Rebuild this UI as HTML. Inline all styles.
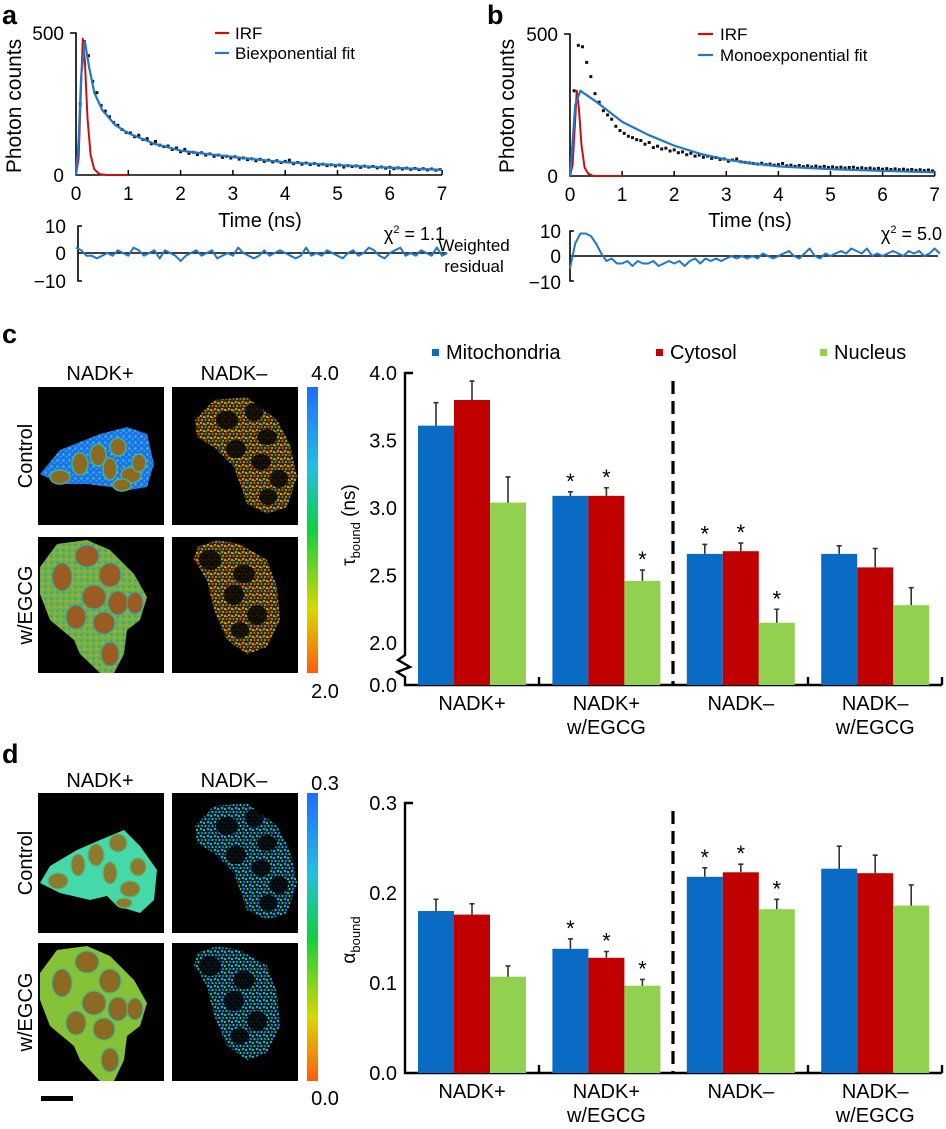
<!DOCTYPE html>
<html><head><meta charset="utf-8">
<style>
html,body{margin:0;padding:0;background:#fff;}
svg{display:block;font-family:"Liberation Sans",Arial,sans-serif;}
</style></head>
<body>
<svg id="fig" width="946" height="1129" viewBox="0 0 946 1129" xmlns="http://www.w3.org/2000/svg">
<defs>
 <linearGradient id="cbar" x1="0" y1="0" x2="0" y2="1">
  <stop offset="0" stop-color="#1f6cff"/><stop offset="0.28" stop-color="#22c0e0"/>
  <stop offset="0.5" stop-color="#10d040"/><stop offset="0.78" stop-color="#d8d800"/>
  <stop offset="1" stop-color="#ff5a10"/>
 </linearGradient>
 <pattern id="spkC" width="7" height="7" patternUnits="userSpaceOnUse">
  <rect width="7" height="7" fill="#3a2806"/>
  <circle cx="1" cy="1" r="1.2" fill="#ff7a00"/><circle cx="4" cy="2" r="1" fill="#e8d000"/>
  <circle cx="2" cy="5" r="1.1" fill="#20b0d0"/><circle cx="5.5" cy="5" r="1" fill="#ff4a00"/>
  <circle cx="6" cy="2.5" r="0.8" fill="#40d040"/>
 </pattern>
 <pattern id="spkD" width="7" height="7" patternUnits="userSpaceOnUse">
  <rect width="7" height="7" fill="#06202a"/>
  <circle cx="1" cy="1" r="1.2" fill="#20a8d8"/><circle cx="4" cy="2" r="1" fill="#30e0c0"/>
  <circle cx="2" cy="5" r="1.1" fill="#1f6cff"/><circle cx="5.5" cy="5" r="1" fill="#60d040"/>
 </pattern>
 <pattern id="spkBlue" width="6" height="6" patternUnits="userSpaceOnUse">
  <rect width="6" height="6" fill="#1d72e6"/>
  <circle cx="1.5" cy="1.5" r="1.2" fill="#2ec8d0"/><circle cx="4.5" cy="4" r="1" fill="#3a9cff"/>
 </pattern>
 <pattern id="spkEgC" width="6" height="6" patternUnits="userSpaceOnUse">
  <rect width="6" height="6" fill="#6fb640"/>
  <circle cx="1.5" cy="1.5" r="1.1" fill="#2a8fe0"/><circle cx="4.5" cy="4" r="1" fill="#d0a020"/>
 </pattern>
</defs>

<!-- panel letters -->
<text x="2" y="24" font-size="27" font-weight="bold">a</text>
<text x="487" y="24" font-size="27" font-weight="bold">b</text>
<text x="2" y="343" font-size="27" font-weight="bold">c</text>
<text x="2" y="763" font-size="27" font-weight="bold">d</text>

<!-- Panel a static -->
<g>
 <text transform="translate(21,106) rotate(-90)" text-anchor="middle" font-size="21">Photon counts</text>
 <text x="64" y="40" text-anchor="end" font-size="19">500</text>
 <text x="64" y="182" text-anchor="end" font-size="19">0</text>
 <path d="M70,33 H76 V175 H442" fill="none" stroke="#000" stroke-width="1.6"/>
 <text x="260" y="227" text-anchor="middle" font-size="20">Time (ns)</text>
 <line x1="215" y1="33" x2="229" y2="33" stroke="#c81010" stroke-width="2.2"/>
 <text x="235" y="39" font-size="17">IRF</text>
 <line x1="215" y1="53" x2="229" y2="53" stroke="#1f78c8" stroke-width="2.2"/>
 <text x="235" y="59" font-size="17">Biexponential fit</text>
 <path d="M82,226 H78 V281 H82" fill="none" stroke="#000" stroke-width="1.6"/>
 <line x1="78" y1="253" x2="446" y2="253" stroke="#000" stroke-width="1.4"/>
 <text x="66" y="233" text-anchor="end" font-size="19">10</text>
 <text x="66" y="260" text-anchor="end" font-size="19">0</text>
 <text x="66" y="288" text-anchor="end" font-size="19">−10</text>
 <text x="445" y="240" text-anchor="end" font-size="18">χ<tspan dy="-7" font-size="11">2</tspan><tspan dy="7"> = 1.1</tspan></text>
</g>
<text x="474" y="251" text-anchor="middle" font-size="17">Weighted</text>
<text x="474" y="272" text-anchor="middle" font-size="17">residual</text>

<!-- Panel b static -->
<g>
 <text transform="translate(514,106) rotate(-90)" text-anchor="middle" font-size="21">Photon counts</text>
 <text x="558" y="41" text-anchor="end" font-size="19">500</text>
 <text x="558" y="183" text-anchor="end" font-size="19">0</text>
 <path d="M564,34 H570 V176 H935" fill="none" stroke="#000" stroke-width="1.6"/>
 <text x="750" y="227" text-anchor="middle" font-size="20">Time (ns)</text>
 <line x1="698" y1="34" x2="713" y2="34" stroke="#c81010" stroke-width="2.2"/>
 <text x="720" y="40" font-size="17">IRF</text>
 <line x1="698" y1="55" x2="713" y2="55" stroke="#1f78c8" stroke-width="2.2"/>
 <text x="720" y="61" font-size="17">Monoexponential fit</text>
 <path d="M574,231 H570 V281 H574" fill="none" stroke="#000" stroke-width="1.6"/>
 <line x1="570" y1="256" x2="938" y2="256" stroke="#000" stroke-width="1.4"/>
 <text x="561" y="238" text-anchor="end" font-size="19">10</text>
 <text x="561" y="263" text-anchor="end" font-size="19">0</text>
 <text x="561" y="289" text-anchor="end" font-size="19">−10</text>
 <text x="942" y="240" text-anchor="end" font-size="18">χ<tspan dy="-7" font-size="11">2</tspan><tspan dy="7"> = 5.0</tspan></text>
</g>

<!-- Panel c images -->
<g>
 <text x="100" y="380" text-anchor="middle" font-size="20">NADK+</text>
 <text x="234" y="380" text-anchor="middle" font-size="20">NADK–</text>
 <text transform="translate(32,456) rotate(-90)" text-anchor="middle" font-size="20">Control</text>
 <text transform="translate(32,605) rotate(-90)" text-anchor="middle" font-size="20">w/EGCG</text>
 <g transform="translate(38,387)">
  <rect width="126" height="138" fill="#000"/>
  <polygon points="2,87 22,63 62,47 89,40 109,47 116,77 109,100 92,103 72,100 49,97 22,97" fill="url(#spkBlue)"/>
  <g fill="#8c6a22" stroke="#3fb0a0" stroke-width="1.5">
   <ellipse cx="22" cy="90" rx="10" ry="7"/><ellipse cx="42" cy="77" rx="8" ry="11"/><ellipse cx="60" cy="68" rx="8" ry="11"/>
   <ellipse cx="80" cy="60" rx="8" ry="9"/><ellipse cx="72" cy="82" rx="7" ry="11"/><ellipse cx="93" cy="88" rx="10" ry="8"/>
   <ellipse cx="84" cy="98" rx="9" ry="6"/><ellipse cx="101" cy="76" rx="7" ry="9"/>
  </g>
 </g>
 <g transform="translate(172,387)">
  <rect width="126" height="138" fill="#000"/>
  <polygon points="23,33 42,13 75,10 105,33 118,57 125,90 115,120 95,127 75,117 62,80 42,60 25,50" fill="url(#spkC)"/>
  <g fill="#070500" opacity="0.85">
   <ellipse cx="55" cy="33" rx="11" ry="9"/><ellipse cx="82" cy="25" rx="9" ry="9"/><ellipse cx="95" cy="50" rx="10" ry="8"/>
   <ellipse cx="64" cy="62" rx="10" ry="9"/><ellipse cx="89" cy="75" rx="10" ry="8"/><ellipse cx="107" cy="92" rx="9" ry="9"/><ellipse cx="96" cy="110" rx="9" ry="8"/>
  </g>
 </g>
 <g transform="translate(38,537)">
  <rect width="126" height="136" fill="#000"/>
  <polygon points="2,30 19,7 49,3 72,13 96,37 109,60 102,83 89,93 86,117 76,136 62,136 42,117 36,103 12,83 2,57" fill="url(#spkEgC)"/>
  <g fill="#9a5c22" stroke="#3aa8a0" stroke-width="1.2">
   <ellipse cx="49" cy="19" rx="12" ry="11"/><ellipse cx="72" cy="38" rx="11" ry="12"/><ellipse cx="56" cy="60" rx="12" ry="12"/>
   <ellipse cx="80" cy="66" rx="10" ry="12"/><ellipse cx="97" cy="66" rx="8" ry="11"/><ellipse cx="66" cy="86" rx="11" ry="11"/>
   <ellipse cx="72" cy="117" rx="9" ry="12"/><ellipse cx="38" cy="80" rx="10" ry="12"/><ellipse cx="24" cy="40" rx="10" ry="14"/>
  </g>
 </g>
 <g transform="translate(172,537)">
  <rect width="126" height="136" fill="#000"/>
  <polygon points="25,10 45,3 68,7 95,23 105,50 108,83 95,110 75,117 55,103 42,73 35,43 22,23" fill="url(#spkC)"/>
  <g fill="#070500" opacity="0.85">
   <ellipse cx="38" cy="23" rx="11" ry="10"/><ellipse cx="72" cy="37" rx="11" ry="9"/><ellipse cx="62" cy="58" rx="10" ry="10"/>
   <ellipse cx="85" cy="78" rx="10" ry="10"/><ellipse cx="68" cy="93" rx="9" ry="8"/>
  </g>
 </g>
 <rect x="307" y="387" width="11" height="286" fill="url(#cbar)"/>
 <text x="325" y="380" text-anchor="middle" font-size="20">4.0</text>
 <text x="325" y="698" text-anchor="middle" font-size="20">2.0</text>
</g>

<!-- Panel d images -->
<g>
 <text x="100" y="787" text-anchor="middle" font-size="20">NADK+</text>
 <text x="234" y="787" text-anchor="middle" font-size="20">NADK–</text>
 <text transform="translate(32,863) rotate(-90)" text-anchor="middle" font-size="20">Control</text>
 <text transform="translate(32,1012) rotate(-90)" text-anchor="middle" font-size="20">w/EGCG</text>
 <g transform="translate(38,793)">
  <rect width="126" height="140" fill="#000"/>
  <polygon points="2,90 12,73 39,57 62,47 86,37 102,53 119,77 116,107 102,120 79,113 69,103 52,107 22,100" fill="#45d8a8"/>
  <g fill="#8c7a2e" stroke="#50c080" stroke-width="1.2">
   <ellipse cx="20" cy="88" rx="10" ry="8"/><ellipse cx="40" cy="72" rx="7" ry="11"/><ellipse cx="58" cy="62" rx="8" ry="11"/>
   <ellipse cx="80" cy="50" rx="9" ry="9"/><ellipse cx="72" cy="80" rx="7" ry="11"/><ellipse cx="100" cy="74" rx="8" ry="9"/>
   <ellipse cx="92" cy="96" rx="10" ry="8"/><ellipse cx="86" cy="110" rx="8" ry="5"/>
  </g>
 </g>
 <g transform="translate(172,793)">
  <rect width="126" height="140" fill="#000"/>
  <polygon points="23,33 42,13 75,10 105,33 118,57 125,90 115,120 95,127 75,117 62,80 42,60 25,50" fill="url(#spkD)"/>
  <g fill="#000305" opacity="0.85">
   <ellipse cx="55" cy="33" rx="11" ry="9"/><ellipse cx="82" cy="25" rx="9" ry="9"/><ellipse cx="95" cy="50" rx="10" ry="8"/>
   <ellipse cx="64" cy="62" rx="10" ry="9"/><ellipse cx="89" cy="75" rx="10" ry="8"/><ellipse cx="107" cy="92" rx="9" ry="9"/><ellipse cx="96" cy="110" rx="9" ry="8"/>
  </g>
 </g>
 <g transform="translate(38,943)">
  <rect width="126" height="138" fill="#000"/>
  <polygon points="2,30 19,7 49,3 72,13 96,37 109,60 102,83 89,93 86,117 76,138 62,138 42,117 36,103 12,83 2,57" fill="#86c238"/>
  <g fill="#8c6a22" stroke="#40b890" stroke-width="1.2">
   <ellipse cx="49" cy="19" rx="12" ry="11"/><ellipse cx="72" cy="38" rx="11" ry="12"/><ellipse cx="56" cy="60" rx="12" ry="12"/>
   <ellipse cx="80" cy="66" rx="10" ry="12"/><ellipse cx="97" cy="66" rx="8" ry="11"/><ellipse cx="66" cy="86" rx="11" ry="11"/>
   <ellipse cx="72" cy="117" rx="9" ry="12"/><ellipse cx="38" cy="80" rx="10" ry="12"/><ellipse cx="24" cy="40" rx="10" ry="14"/>
  </g>
 </g>
 <g transform="translate(172,943)">
  <rect width="126" height="138" fill="#000"/>
  <polygon points="25,10 45,3 68,7 95,23 105,50 108,83 95,110 75,117 55,103 42,73 35,43 22,23" fill="url(#spkD)"/>
  <g fill="#000305" opacity="0.85">
   <ellipse cx="38" cy="23" rx="11" ry="10"/><ellipse cx="72" cy="37" rx="11" ry="9"/><ellipse cx="62" cy="58" rx="10" ry="10"/>
   <ellipse cx="85" cy="78" rx="10" ry="10"/><ellipse cx="68" cy="93" rx="9" ry="8"/>
  </g>
 </g>
 <rect x="307" y="793" width="11" height="288" fill="url(#cbar)"/>
 <text x="325" y="790" text-anchor="middle" font-size="20">0.3</text>
 <text x="325" y="1105" text-anchor="middle" font-size="20">0.0</text>
 <rect x="41" y="1096" width="32" height="5" fill="#000"/>
</g>

<!-- Panel c chart static -->
<g>
 <rect x="432" y="349" width="7" height="7" fill="#0a6bc4"/>
 <text x="446" y="359" font-size="20">Mitochondria</text>
 <rect x="656" y="349" width="7" height="7" fill="#c00000"/>
 <text x="670" y="359" font-size="20">Cytosol</text>
 <rect x="820" y="349" width="7" height="7" fill="#92d050"/>
 <text x="834" y="359" font-size="20">Nucleus</text>
 <text transform="translate(355,525) rotate(-90)" text-anchor="middle" font-size="19">τ<tspan dy="5" font-size="13">bound</tspan><tspan dy="-5"> (ns)</tspan></text>
</g>
<g>
 <text transform="translate(355,940) rotate(-90)" text-anchor="middle" font-size="19">α<tspan dy="5" font-size="13">bound</tspan></text>
</g>
<g id="dyn"></g>
</svg>

<script>
// ---------- Panel a data ----------
const fitTimesA = [0,0.05,0.1,0.17,0.25,0.35,0.5,0.75,1,1.5,2,2.5,3,3.5,4,5,6,7];
const fitValsA  = [0,120,350,470,380,290,229,176,147,110,86,74,64,54,45,35,26,18];
const irfTimes  = [0,0.05,0.1,0.13,0.17,0.22,0.28,0.35,0.45,0.6,1.0];
const irfValsA  = [0,60,330,480,400,200,70,20,3,0,0];
const dotValsA = [250,470,420,330,290,245,225,205,185,175,160,150,148,135,140,125,128,110,118,105,100,102,90,95,82,90,76,80,72,78,70,74,66,70,62,66,60,64,56,60,54,57,50,55,48,52,46,50,44,48,52,40,44,38,42,37,40,35,38,33,36,32,35,28,33,30,32,27,31,28,30,25,28,24,27,22,25,21,24,20,23,19,22,18,21,17,19];
const resValsA = [2,1,-1,-1,-2,-1,0,-1,1,0,-1,2,1,-1,0,1,-2,1,0,-1,-3,-1,0,1,-1,0,1,-2,-1,0,-1,2,0,-1,-2,-1,1,-1,0,1,0,-1,-2,-1,2,-1,0,-1,1,0,-1,-2,0,1,-1,0,2,1,-1,-2,0,1,2,-1,0,-1,1,0,-1,2,-1,0];
// ---------- Panel b data ----------
const fitTimesB = [0,0.05,0.1,0.2,0.5,1,1.5,2,2.5,3,3.5,4,5,6,7];
const fitValsB  = [0,120,250,300,262,191,145,107,78,58,44,34,24,18,13];
const irfValsB  = [0,40,200,300,240,110,30,8,0,0,0];
const dotValsB = [300,460,455,400,350,290,260,230,215,200,175,160,150,140,135,128,125,112,118,100,105,95,98,88,92,82,85,75,80,70,74,66,70,62,65,58,60,52,56,60,50,48,46,44,42,45,40,42,38,40,44,36,38,34,37,33,36,32,35,31,34,30,32,29,31,28,30,31,27,29,26,28,25,27,24,26,23,25,22,24,21,23,20,22,19,21,18];
const resValsB = [-5,5,9,9,8,5,1,-2,-1,-3,-3,-2,-4,-2,-3,-3,-2,-4,-3,-2,-3,-2,-4,-2,-1,-3,-1,-2,-1,-2,-1,0,-1,0,-1,0,-1,1,0,-1,0,1,2,0,-1,1,3,0,-1,1,0,1,2,1,3,2,1,3,0,1,0,1,2,1,0,2,1,2,0,1,3,1];
const dotStep = 0.08, resStep = 0.1;
const xTickLabels = ["0","1","2","3","4","5","6","7"];

// ---------- Panel c data ----------
const groups = ["NADK+","NADK+\nw/EGCG","NADK–","NADK–\nw/EGCG"];
const seriesNames = ["mitochondria","cytosol","nucleus"];
const tauMito = [3.61,3.09,2.66,2.66];
const tauCyto = [3.80,3.09,2.68,2.56];
const tauNuc  = [3.04,2.46,2.15,2.28];
const tauMitoErr = [3.78,3.12,2.73,2.72];
const tauCytoErr = [3.94,3.15,2.74,2.70];
const tauNucErr  = [3.23,2.54,2.25,2.41];
const tauSig = [[0,0,0],[1,1,1],[1,1,1],[0,0,0]];
const tauTicks = ["0.0","2.0","2.5","3.0","3.5","4.0"];
const tauTickVals = [0,2,2.5,3,3.5,4];
// ---------- Panel d data ----------
const alphaMito = [0.180,0.138,0.218,0.227];
const alphaCyto = [0.176,0.128,0.223,0.222];
const alphaNuc  = [0.107,0.097,0.182,0.186];
const alphaMitoErr = [0.193,0.149,0.228,0.252];
const alphaCytoErr = [0.188,0.135,0.232,0.242];
const alphaNucErr  = [0.119,0.104,0.193,0.209];
const alphaSig = [[0,0,0],[1,1,1],[1,1,1],[0,0,0]];
const alphaTicks = ["0.0","0.1","0.2","0.3"];
const alphaTickVals = [0,0.1,0.2,0.3];

const NS = "http://www.w3.org/2000/svg";
const root = document.getElementById("dyn");
function mk(tag, attrs, parent) {
  const e = document.createElementNS(NS, tag);
  for (const k in attrs) e.setAttribute(k, attrs[k]);
  (parent || root).appendChild(e);
  return e;
}

function drawDecay(p, fitT, fitV, irfV, dots, res, key) {
  const xs = t => p.x0 + t * p.pxPerNs;
  const ys = v => p.y0 - v * p.pxPerCount;
  const rs = v => p.r0 - v * p.pxPerRes;
  xTickLabels.forEach((lab, i) => {
    const t = +lab;
    const tk = mk("line", {x1: xs(t), y1: p.y0, x2: xs(t), y2: p.y0 - 5, stroke: "#000", "stroke-width": 1.5});
    
    
    const tx = mk("text", {x: xs(t), y: p.y0 + 25, "text-anchor": "middle", "font-size": 19});
    tx.textContent = lab;
    
    
  });
  dots.forEach((v, i) => {
    const t = (i + 1) * dotStep;
    const d = mk("rect", {x: xs(t) - 1.5, y: ys(v) - 1.5, width: 3, height: 3, fill: "#111"});
    
    
  });
  const irfPts = irfTimes.map((t, i) => xs(t) + "," + ys(irfV[i])).join(" ");
  const irf = mk("polyline", {points: irfPts, fill: "none", stroke: "#c81010", "stroke-width": 2, "stroke-linejoin": "round"});
  
  
  const fitPts = fitT.map((t, i) => xs(t) + "," + ys(fitV[i])).join(" ");
  const fit = mk("polyline", {points: fitPts, fill: "none", stroke: "#1f78c8", "stroke-width": 2.2, "stroke-linejoin": "round"});
  
  
  const resPts = res.map((v, i) => xs(i * resStep) + "," + rs(v)).join(" ");
  const rl = mk("polyline", {points: resPts, fill: "none", stroke: "#1f78c8", "stroke-width": 2, "stroke-linejoin": "round"});
  
  
}

drawDecay({x0: 76, pxPerNs: 52.3, y0: 175, pxPerCount: 0.284, r0: 253, pxPerRes: 2.7},
  fitTimesA, fitValsA, irfValsA, dotValsA, resValsA, "a");
drawDecay({x0: 570, pxPerNs: 52.1, y0: 176, pxPerCount: 0.284, r0: 256, pxPerRes: 2.5},
  fitTimesB, fitValsB, irfValsB, dotValsB, resValsB, "b");

const colors = ["#0a6bc4", "#c00000", "#92d050"];
function groupX(i) { return 418 + i * 134.4; }
const barW = 36;

function drawBars(yScale, base, vals, errs, sig, ticks, tickVals, cfg, key) {
  const ax = mk("path", {d: cfg.axisPath, fill: "none", stroke: "#000", "stroke-width": 2.4});
  
  
  [539, 808, 942].forEach(x => {
    const t = mk("line", {x1: x, y1: base, x2: x, y2: base - 8, stroke: "#000", "stroke-width": 2.4});
    
    
  });
  const dl = mk("line", {x1: 673, y1: yScale(tickVals[tickVals.length - 1]) + 8, x2: 673, y2: base, stroke: "#000", "stroke-width": 3.2, "stroke-dasharray": "13,7"});
  
  
  ticks.forEach((lab, i) => {
    const tx = mk("text", {x: 397, y: yScale(tickVals[i]) + 7, "text-anchor": "end", "font-size": 20});
    tx.textContent = lab;
    
    
  });
  groups.forEach((g, gi) => {
    vals.forEach((series, si) => {
      const x = groupX(gi) + si * barW;
      const y = yScale(series[gi]);
      const r = mk("rect", {x: x, y: y, width: barW, height: base - y, fill: colors[si]});
      
      
      const cx = x + barW / 2, ey = yScale(errs[si][gi]);
      const e = mk("path", {d: "M" + cx + "," + y + " V" + ey + " M" + (cx - 2.5) + "," + ey + " H" + (cx + 2.5), stroke: "#333", "stroke-width": 1.6, fill: "none"});
      
      
      if (sig[gi][si]) {
        const s = mk("text", {x: cx, y: ey - 3, "text-anchor": "middle", "font-size": 22});
        s.textContent = "*";
        
        
      }
    });
    const lines = g.split("\n");
    lines.forEach((ln, li) => {
      const t = mk("text", {x: groupX(gi) + 54, y: base + 25 + li * 24, "text-anchor": "middle", "font-size": 20});
      t.textContent = ln;
      
      
    });
  });
}

const tauBase = 685;
const tauY = v => v <= 0 ? tauBase : 643 - (v - 2) * 135;
drawBars(tauY, tauBase, [tauMito, tauCyto, tauNuc], [tauMitoErr, tauCytoErr, tauNucErr], tauSig, tauTicks, tauTickVals,
  {axisPath: "M413,373 H405 V655 L398,660 L410,667 L397,672 L405,677 V685 H942"}, "c");

const alphaBase = 1073;
const alphaY = v => alphaBase - v * 900;
drawBars(alphaY, alphaBase, [alphaMito, alphaCyto, alphaNuc], [alphaMitoErr, alphaCytoErr, alphaNucErr], alphaSig, alphaTicks, alphaTickVals,
  {axisPath: "M413,803 H405 V1073 H942"}, "d");
</script>
</body></html>
